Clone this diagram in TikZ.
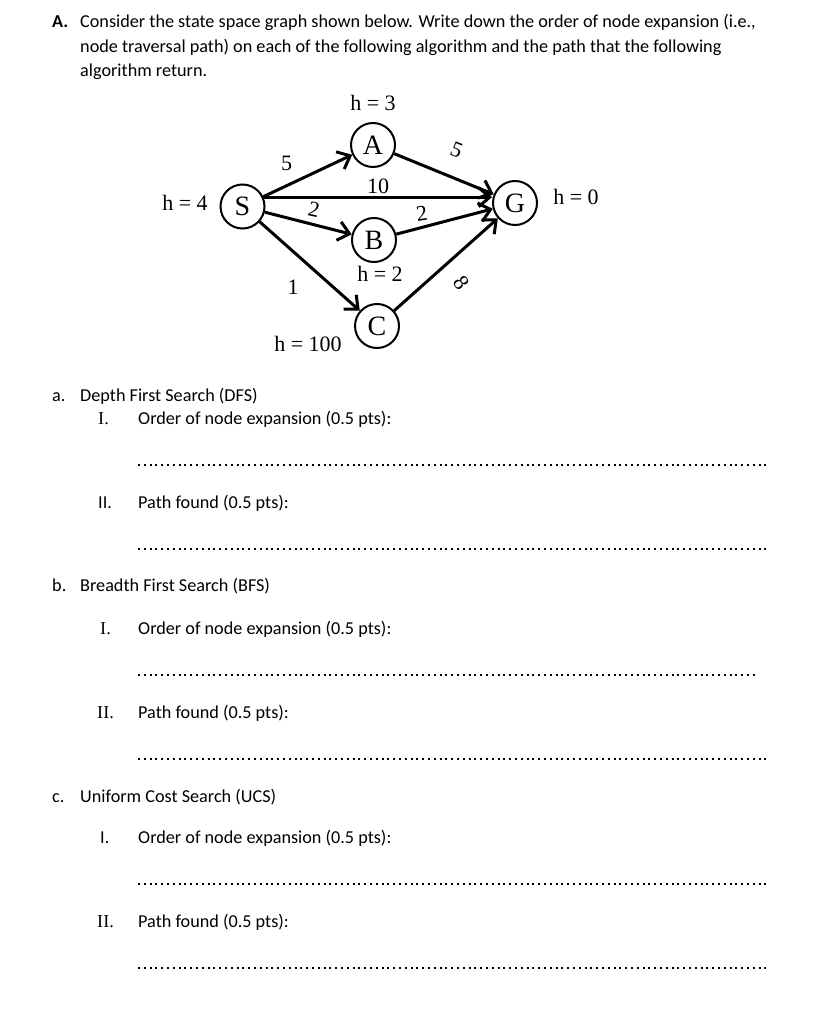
\documentclass[tikz,border=0pt]{standalone}
\usepackage{fontspec}
\setmainfont{Carlito}
\newfontfamily\tms{Liberation Serif}
\usetikzlibrary{arrows.meta}
\begin{document}
\begin{tikzpicture}[x=1pt,y=-1pt,
  txt/.style={anchor=base west,inner sep=0pt,font=\fontsize{18.2}{22}\selectfont},
  rom/.style={anchor=base west,inner sep=0pt,font=\tms\fontsize{18.2}{22}\selectfont},
  gnode/.style={circle,draw,line width=2pt,minimum size=44pt,inner sep=0pt,font=\tms\fontsize{28}{30}\selectfont},
  lab/.style={inner sep=0pt,font=\tms\fontsize{22}{24}\selectfont},
  edge/.style={line width=3pt,-{Straight Barb[length=11pt,width=19pt,line width=3pt]}},
  dotline/.style={line width=2pt,dash pattern=on 2pt off 3.8pt}]
\useasboundingbox (0,0) rectangle (833,1024);
\fill[white] (0,0) rectangle (833,1024);
% header
\node[txt,font=\bfseries\fontsize{18.2}{22}\selectfont] (hA) at (52,28) {A.};
\node[txt] (h1) at (80,28) {Consider the state space graph shown below. Write down the order of node expansion (i.e.,};
\node[txt] (h2) at (80,53) {node traversal path) on each of the following algorithm and the path that the following};
\node[txt] (h3) at (80,77) {algorithm return.};
% graph
\node[gnode] (S) at (242.5,206.5) {S};
\node[gnode] (A) at (373,145) {A};
\node[gnode] (B) at (374,240) {B};
\node[gnode] (C) at (377,326) {C};
\node[gnode] (G) at (515,203) {G};
\node[lab] (hS) at (185,203) {h = 4};
\node[lab] (hAl) at (373,103) {h = 3};
\node[lab] (hG) at (576,197) {h = 0};
\node[lab] (hB) at (380,274) {h = 2};
\node[lab] (hC) at (308,344) {h = 100};
\draw[edge] (S) -- (A);
\draw[edge] (S.24) -- (S.24 -| G.west);
\draw[edge] (S) -- (B);
\draw[edge] (S) -- (C);
\draw[edge] (A) -- (G);
\draw[edge] (B) -- (G);
\draw[edge] (C) -- (G);
\node[lab] (wSA) at (286.7,163) {5};
\node[lab] (wSG) at (378,186) {10};
\node[lab,rotate=-12] (wSB) at (314,210) {2};
\node[lab,rotate=8] (wBG) at (421.7,214) {2};
\node[lab,rotate=-22] (wAG) at (456.7,150) {5};
\node[lab] (wSC) at (293,287) {1};
\node[lab,rotate=-55] (wCG) at (461.7,283) {8};
% section a
\node[txt] (la) at (52,401) {a.};
\node[txt] (ta) at (80,401) {Depth First Search (DFS)};
\node[rom] (aI) at (98,424) {I.};
\node[txt] (taI) at (138,424) {Order of node expansion (0.5 pts):};
\coordinate (d1a) at (138,465); \coordinate (d1b) at (770,465);
\draw[dotline] (d1a) -- (d1b);
\node[txt] (aII) at (98,508) {II.};
\node[txt] (taII) at (138,508) {Path found (0.5 pts):};
\coordinate (d2a) at (138,549); \coordinate (d2b) at (770,549);
\draw[dotline] (d2a) -- (d2b);
% section b
\node[txt] (lb) at (52,591) {b.};
\node[txt] (tb) at (80,591) {Breadth First Search (BFS)};
\node[rom] (bI) at (100,634) {I.};
\node[txt] (tbI) at (138,634) {Order of node expansion (0.5 pts):};
\coordinate (d3a) at (138,675); \coordinate (d3b) at (758,675);
\draw[dotline] (d3a) -- (d3b);
\node[rom] (bII) at (97,718) {II.};
\node[txt] (tbII) at (138,718) {Path found (0.5 pts):};
\coordinate (d4a) at (138,759); \coordinate (d4b) at (770,759);
\draw[dotline] (d4a) -- (d4b);
% section c
\node[txt] (lc) at (52,802) {c.};
\node[txt] (tc) at (80,802) {Uniform Cost Search (UCS)};
\node[txt] (cI) at (100,843) {I.};
\node[txt] (tcI) at (138,843) {Order of node expansion (0.5 pts):};
\coordinate (d5a) at (138,884); \coordinate (d5b) at (770,884);
\draw[dotline] (d5a) -- (d5b);
\node[rom] (cII) at (97,927) {II.};
\node[txt] (tcII) at (138,927) {Path found (0.5 pts):};
\coordinate (d6a) at (138,968); \coordinate (d6b) at (770,968);
\draw[dotline] (d6a) -- (d6b);
% page number (cut off)
\node[txt] (pg) at (762,1036) {2};
\end{tikzpicture}
\end{document}
